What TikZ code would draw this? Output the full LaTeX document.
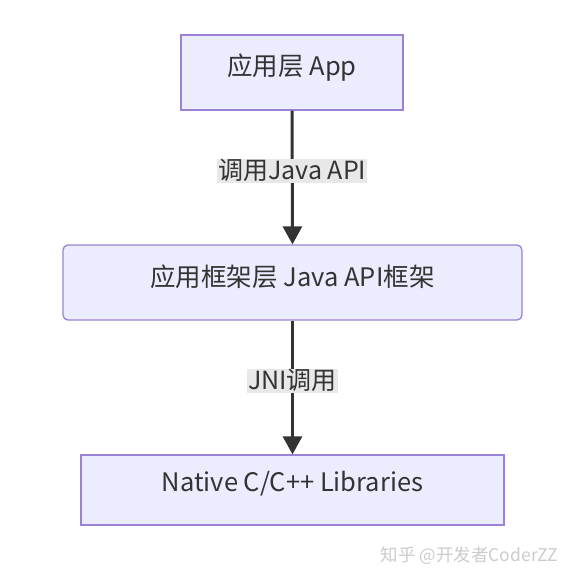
\documentclass[tikz,border=0pt]{standalone}
\usepackage{fontspec}
\setmainfont{Noto Sans CJK SC}
\usetikzlibrary{arrows.meta}
\definecolor{nodefill}{HTML}{ECECFF}
\definecolor{nodestroke}{HTML}{9C82D4}
\definecolor{ink}{HTML}{333333}
\definecolor{labelbg}{HTML}{E8E8E8}
\tikzset{
  x=1pt,y=-1pt,
  box/.style={draw=nodestroke,fill=nodefill,line width=1.3pt,inner sep=0pt},
  boxtext/.style={text=ink,font=\fontsize{25.5}{28}\selectfont,inner sep=0pt},
  edgelabel/.style={fill=labelbg,text=ink,font=\fontsize{25}{28}\selectfont,inner sep=1pt},
  conn/.style={draw=ink,line width=3pt,-{Triangle[length=18pt,width=19pt]}},
  wmark/.style={text=gray!40,font=\fontsize{17.5}{20}\selectfont}
}
\begin{document}
\begin{tikzpicture}
\useasboundingbox (0,0) rectangle (574,582);
\fill[white] (0,0) rectangle (574,582);
\node[box,minimum width=222pt,minimum height=75pt] (app) at (292,72.5) {};
\node[box,rounded corners=5pt,minimum width=459pt,minimum height=75pt] (fw) at (292.5,282.5) {};
\node[box,minimum width=423pt,minimum height=70pt] (nat) at (292.5,490) {};
\node[boxtext] (appt) at (292,67.5) {应用层 App};
\node[boxtext] (fwt) at (292.5,276.5) {应用框架层 Java API框架};
\node[boxtext] (natt) at (292.5,484) {Native C/C++ Libraries};
\draw[conn] (app.south) -- (fw.north) node[pos=0.45,edgelabel] (l1) {调用Java API};
\draw[conn] (fw.south) -- (nat.north) node[pos=0.45,edgelabel] (l2) {JNI调用};
\node[wmark,anchor=east] (wm) at (562,556) {知乎 @开发者CoderZZ};
\end{tikzpicture}
\end{document}
